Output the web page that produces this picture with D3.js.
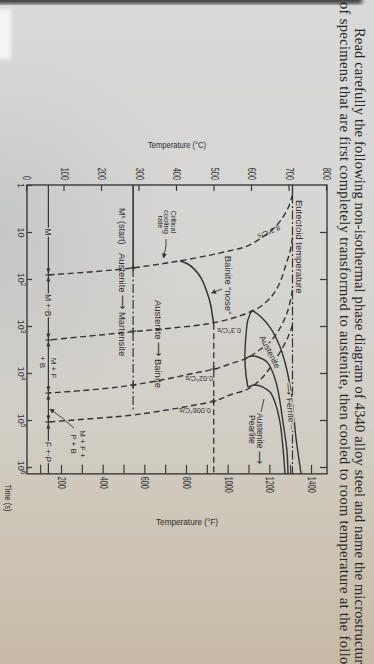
<!DOCTYPE html>
<html>
<head>
<meta charset="utf-8">
<script src="https://cdn.jsdelivr.net/npm/d3@7"></script>
<style>
  html, body { margin: 0; padding: 0; background: #d3d0c9; overflow: hidden; }
  svg { display: block; }
  text { font-family: "Liberation Sans", Arial, sans-serif; fill: #2e2e2e; }
  .hdr { font-family: "Liberation Serif", "Times New Roman", serif; font-size: 14.5px; fill: #262626; }
  .halo { paint-order: stroke; stroke: #d5d2cc; stroke-width: 3px; stroke-linejoin: round; }
</style>
</head>
<body>
<svg id="chart" width="374" height="664"></svg>
<script>
// question text above the figure
var question = [
  "Read carefully the following non-isothermal phase diagram of 4340 alloy steel and name the microstructure",
  "of specimens that are first completely transformed to austenite, then cooled to room temperature at the following"
];

// axes
var timeTicks = [1, 10, 1e2, 1e3, 1e4, 1e5, 1e6];
var tempTicksC = [0, 100, 200, 300, 400, 500, 600, 700, 800];
var tempTicksF = [100, 200, 300, 400, 500, 600, 700, 800, 900, 1000, 1100, 1200, 1300, 1400];
var timeEnd = 1.4e6;

// horizontal reference temperatures (deg C)
var eutectoidT = 708;
var msT = 283;
var bainiteT = 498;
var roomT = 57;

// cooling paths [time s, temp C]
var coolingRates = ["8.3°C/s", "0.3°C/s", "0.02°C/s", "0.006°C/s"];
var cool83 = [[1.6, 708], [3.1, 696], [5.6, 677], [8.6, 656], [13, 627], [20, 587], [25, 541], [32, 480],
              [41, 408], [48, 355], [58, 283], [68, 195], [82, 57]];
var cool03 = [[13, 708], [27, 701], [48, 691], [116, 675], [230, 653], [394, 621], [556, 581], [710, 541],
              [906, 480], [1100, 389], [1280, 301], [1550, 195], [1990, 57]];
var cool002 = [[171, 708], [457, 696], [1100, 675], [2190, 648], [3400, 616], [4800, 587], [6440, 541],
               [8220, 501], [10000, 448], [13400, 373], [18000, 283], [21900, 195], [26700, 57]];
var cool0006 = [[953, 708], [1710, 696], [3570, 675], [7830, 648], [14100, 621], [21900, 589], [29400, 541],
                [39400, 501], [48000, 448], [61300, 373], [78300, 283], [90600, 195], [110000, 57]];

// transformation curves [time s, temp C]
var bainiteNose = [[41, 408], [48, 429], [64, 448], [95, 464], [148, 475], [254, 485], [394, 491], [583, 494], [900, 498]];
var ferriteStart = [[457, 600], [676, 627], [1220, 653], [2800, 675], [8630, 693], [37500, 707], [230000, 717], [1.4e6, 731]];
var ferriteEnd = [[4800, 584], [4350, 600], [4570, 616], [5830, 640], [10000, 656], [23000, 669], [116000, 683], [435000, 693], [1.4e6, 696]];
var pearliteEnd = [[19900, 589], [18000, 608], [19900, 629], [25400, 648], [41400, 661], [116000, 675], [435000, 683], [1.4e6, 688]];
var noseEdge = [[457, 600], [745, 589], [1550, 584], [4570, 581], [11000, 584], [19900, 589]];

var svg = d3.select("#chart");
var defs = svg.append("defs");

// photographed paper
var paper = defs.append("linearGradient").attr("id", "paper")
  .attr("x1", 0).attr("y1", 0).attr("x2", 0).attr("y2", 1);
[["0%", "#d9d9da"], ["35%", "#d7d6d3"], ["62%", "#d3cfc7"], ["100%", "#c6baa5"]].forEach(function(s) {
  paper.append("stop").attr("offset", s[0]).attr("stop-color", s[1]);
});
var shade = defs.append("radialGradient").attr("id", "shade")
  .attr("gradientUnits", "userSpaceOnUse").attr("cx", 0).attr("cy", 230).attr("r", 190);
shade.append("stop").attr("offset", "0%").attr("stop-color", "#9ea3ad").attr("stop-opacity", 0.3);
shade.append("stop").attr("offset", "100%").attr("stop-color", "#9ea3ad").attr("stop-opacity", 0);
defs.append("filter").attr("id", "soft").append("feGaussianBlur").attr("stdDeviation", 2);

svg.append("rect").attr("width", 374).attr("height", 664).attr("fill", "url(#paper)");
svg.append("rect").attr("width", 374).attr("height", 664).attr("fill", "url(#shade)");
svg.append("rect").attr("x", -4).attr("y", -4).attr("width", 366).attr("height", 8)
  .attr("fill", "#3f3f40").attr("filter", "url(#soft)");
svg.append("rect").attr("x", -4).attr("y", 9).attr("width", 15).attr("height", 50)
  .attr("fill", "#f4f4f4").attr("filter", "url(#soft)");

var arrow = defs.append("marker").attr("id", "arr")
  .attr("viewBox", "0 0 10 10").attr("refX", 9).attr("refY", 5)
  .attr("markerWidth", 5).attr("markerHeight", 5).attr("markerUnits", "userSpaceOnUse")
  .attr("orient", "auto");
arrow.append("path").attr("d", "M0,0L10,5L0,10Z").attr("fill", "#333");

// the page is photographed sideways: draw the figure upright and turn it
var g = svg.append("g").attr("transform", "translate(374,0) rotate(90)");

var x = d3.scaleLog().domain([1, 1e6]).range([185, 467]);
var y = d3.scaleLinear().domain([0, 800]).range([347, 47]);
var yF = d3.scaleLinear().domain([32, 1472]).range([y(0), y(800)]);

function squeeze(sel, k) {
  sel.each(function() {
    var w = this.getComputedTextLength();
    if (w > 0) d3.select(this).attr("textLength", w * k).attr("lengthAdjust", "spacingAndGlyphs");
  });
}

// question text, cut by the photo edge
question.forEach(function(q, i) {
  var startX = i == 0 ? 28 : 2,
      visible = i == 0 ? q.length - 1 : q.length - 4;
  var t = g.append("text").attr("class", "hdr").attr("x", startX).attr("y", 19 + i * 15).text(q);
  var node = t.node();
  var k = (664 - startX) / node.getSubStringLength(0, visible);
  t.attr("textLength", node.getComputedTextLength() * k).attr("lengthAdjust", "spacing");
});

// frame
g.append("rect")
  .attr("x", x(1)).attr("y", y(800))
  .attr("width", x(timeEnd) - x(1)).attr("height", y(0) - y(800))
  .attr("fill", "none").attr("stroke", "#3a3a3a").attr("stroke-width", 1.4);

// time axis
var ax = g.append("g").attr("transform", "translate(0," + y(0) + ")")
  .call(d3.axisBottom(x).tickValues(timeTicks).tickSizeInner(-5).tickSizeOuter(0).tickPadding(3));
ax.attr("font-size", null).attr("font-family", null);
ax.select(".domain").remove();
ax.selectAll("line").attr("stroke", "#3a3a3a").attr("stroke-width", 1.2);
ax.selectAll("text").style("font-size", "9px").text(null).each(function(d) {
  var e = Math.round(Math.log10(d)), t = d3.select(this);
  if (e < 2) { t.text(d); return; }
  t.append("tspan").text("10");
  t.append("tspan").attr("dy", "-0.45em").style("font-size", "6.5px").text(e);
});

var axTop = g.append("g").attr("transform", "translate(0," + y(800) + ")")
  .call(d3.axisTop(x).tickValues(timeTicks.slice(1)).tickSizeInner(-7).tickSizeOuter(0).tickFormat(""));
axTop.select(".domain").remove();
axTop.selectAll("line").attr("stroke", "#3a3a3a").attr("stroke-width", 1.2);

// deg C axis
var ayC = g.append("g").attr("transform", "translate(" + x(1) + ",0)")
  .call(d3.axisLeft(y).tickValues(tempTicksC).tickSizeInner(-6).tickSizeOuter(0).tickPadding(5));
ayC.attr("font-size", null).attr("font-family", null);
ayC.select(".domain").remove();
ayC.selectAll("line").attr("stroke", "#3a3a3a").attr("stroke-width", 1.2);
ayC.selectAll("text").style("font-size", "10.5px").call(squeeze, 0.7);

// deg F axis
var ayF = g.append("g").attr("transform", "translate(" + x(timeEnd) + ",0)")
  .call(d3.axisRight(yF).tickValues(tempTicksF).tickSizeInner(-9).tickSizeOuter(0).tickPadding(3)
    .tickFormat(function(d) { return d % 200 ? "" : d; }));
ayF.attr("font-size", null).attr("font-family", null);
ayF.select(".domain").remove();
ayF.selectAll("line").attr("stroke", "#3a3a3a").attr("stroke-width", 1.2);
ayF.selectAll("text").style("font-size", "10.5px").call(squeeze, 0.68);

// axis titles
g.append("text").attr("transform", "translate(148," + y(400) + ") rotate(-90)")
  .attr("text-anchor", "middle").style("font-size", "9.5px").text("Temperature (°C)")
  .attr("textLength", 58).attr("lengthAdjust", "spacingAndGlyphs");
g.append("text").attr("transform", "translate(525," + yF(800) + ") rotate(-90)")
  .attr("text-anchor", "middle").style("font-size", "9.5px").text("Temperature (°F)")
  .attr("textLength", 62).attr("lengthAdjust", "spacingAndGlyphs");
g.append("text").attr("x", 498).attr("y", y(0) + 22)
  .attr("text-anchor", "middle").style("font-size", "9px").text("Time (s)")
  .attr("textLength", 27).attr("lengthAdjust", "spacingAndGlyphs");

// curves
var smooth = d3.line().x(function(d) { return x(d[0]); }).y(function(d) { return y(d[1]); })
  .curve(d3.curveCatmullRom.alpha(0.5));
var straight = d3.line().x(function(d) { return x(d[0]); }).y(function(d) { return y(d[1]); });

function draw(pathGen, pts, dash, w) {
  return g.append("path").attr("d", pathGen(pts)).attr("fill", "none")
    .attr("stroke", "#333").attr("stroke-width", w || 1.4)
    .attr("stroke-dasharray", dash || null);
}
var DASH = "6,3.5", DASHDOT = "9,2.5,2,2.5";

// eutectoid, Ms, bainite and room temperature lines
draw(straight, [[1, eutectoidT], [cool83[0][0], eutectoidT]]);
draw(straight, [[cool83[0][0], eutectoidT], [timeEnd, eutectoidT]], DASHDOT, 1.2);
draw(straight, [[1, msT], [58, msT]], null, 1.6);
draw(straight, [[58, msT], [60000, msT]], DASHDOT, 1.2);
draw(straight, [[bainiteNose[bainiteNose.length - 1][0], bainiteT], [timeEnd, bainiteT]], DASH, 1.3);
draw(straight, [[1, roomT], [timeEnd, roomT]], null, 1.2);

[cool83, cool03, cool002, cool0006].forEach(function(c) { draw(smooth, c, DASH, 1.4); });

draw(smooth, bainiteNose, null, 1.5);
draw(smooth, ferriteStart, null, 1.4);
draw(smooth, ferriteEnd, null, 1.4);
draw(smooth, pearliteEnd, null, 1.4);
draw(smooth, noseEdge, null, 1.4);

// small crosses where cooling paths cut Ms and the bainite line
function cross(px, py) {
  g.append("path").attr("d", "M" + (px - 3) + "," + py + "h6M" + px + "," + (py - 3) + "v6")
    .attr("stroke", "#333").attr("stroke-width", 1.2);
}
cross(x(58), y(msT)); cross(x(1280), y(msT)); cross(x(18000), y(msT));
cross(x(8220), y(bainiteT)); cross(x(39400), y(bainiteT));

// labels
function label(txt, px, py, size, opts) {
  opts = opts || {};
  var t = g.append("text").attr("x", px).attr("y", py)
    .attr("text-anchor", opts.anchor || "middle")
    .style("font-size", size + "px").text(txt);
  if (opts.rotate != null) t.attr("transform", "rotate(" + opts.rotate + "," + px + "," + py + ")");
  if (opts.halo) t.attr("class", "halo");
  if (opts.central) t.attr("dominant-baseline", "central");
  return t;
}

label("Eutectoid temperature", 200, y(eutectoidT) - 3, 9.5, { anchor: "start" });
label("Bainite \u201cnose\u201d", 285, y(528), 9.5);
g.append("line").attr("x1", 289).attr("y1", 152).attr("x2", 293).attr("y2", 162.5)
  .attr("stroke", "#333").attr("stroke-width", 0.9).attr("marker-end", "url(#arr)");

label("Critical", 222, 203.5, 7.5);
label("cooling", 222, 210, 7.5);
label("rate", 222, 216.5, 7.5);
g.append("path").attr("d", "M239,208H246L258,210.5").attr("fill", "none")
  .attr("stroke", "#333").attr("stroke-width", 0.9).attr("marker-end", "url(#arr)");

var ms = label("M", 208, y(msT) + 14, 9, { anchor: "start" });
ms.append("tspan").attr("dy", -3).style("font-size", "6px").text("s");
ms.append("tspan").attr("dy", 3).text(" (start)");
label("Austenite \u27f6 Martensite", 253, y(msT) + 14, 9.5, { anchor: "start" });
label("Austenite \u27f6 Bainite", 300, y(342), 9.5, { anchor: "start" });

label("Austenite", 352, 104, 8.5, { rotate: -27, halo: true, central: true });
label("\u27f6 Ferrite \u2013", 406, 84, 8.5, { rotate: -6, halo: true, central: true });
label("Austenite \u27f6", 413, 117, 8.5, { anchor: "start" });
label("Pearlite", 415, 125, 8.5, { anchor: "start" });
g.append("line").attr("x1", 412).attr("y1", 113).attr("x2", 399).attr("y2", 110)
  .attr("stroke", "#333").attr("stroke-width", 0.9);

// cooling rate tags (printed upside down)
var tagSpots = [[10, 645, 67], [1217, 539, 90], [12800, 459, 90], [61300, 448, 90]];
coolingRates.forEach(function(r, i) {
  var s = tagSpots[i];
  label(r, x(s[0]), y(s[1]), 7.2, { rotate: s[2], central: true });
});

// phases reached at room temperature
var yl = y(roomT);
[cool83, cool03, cool002, cool0006].forEach(function(c) {
  var px = x(c[c.length - 1][0]);
  g.append("path").attr("d", "M" + (px - 1.5) + "," + yl + "l-5,-2v4z").attr("fill", "#333");
  g.append("path").attr("d", "M" + (px + 1.5) + "," + yl + "l5,-2v4z").attr("fill", "#333");
  g.append("path").attr("d", "M" + px + "," + (yl - 3) + "v6").attr("stroke", "#333").attr("stroke-width", 1.1);
});
label("M", x(10), yl, 8.5, { halo: true, central: true });
label("M + B", x(360), yl, 8.5, { halo: true, central: true });
label("M + F", 368, yl - 5, 8, { halo: true, central: true });
label("+ B", 362, yl + 6, 8, { halo: true, central: true });
label("M + F +", 444, 294.5, 8);
label("P + B", 444, 303.5, 8);
g.append("path").attr("d", "M428,300Q417,312 409," + (yl - 1.5)).attr("fill", "none")
  .attr("stroke", "#333").attr("stroke-width", 0.9).attr("marker-end", "url(#arr)");
label("F + P", x(480000), yl, 8.5, { halo: true, central: true });
</script>
</body>
</html>
